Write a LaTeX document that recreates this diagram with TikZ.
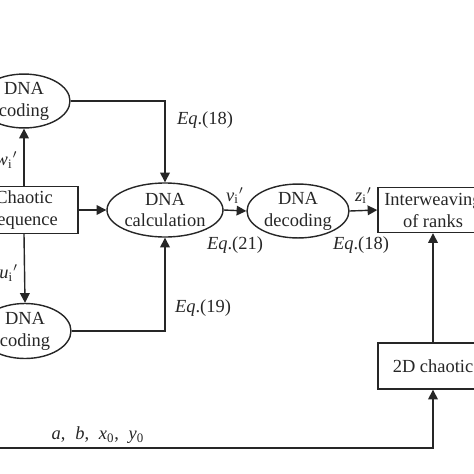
\documentclass[tikz,border=0pt]{standalone}
\usepackage{fontspec}
\setmainfont{Liberation Serif}
\usetikzlibrary{shapes.geometric}
\usetikzlibrary{arrows.meta}
\tikzstyle{oval}=[draw, ellipse, inner sep=0pt, align=center]
\tikzstyle{block}=[draw, rectangle, inner sep=0pt, align=center]
\tikzstyle{flow}=[-{Triangle[length=5.5pt,width=5.5pt]}]
\newcommand{\varlab}[2]{\textit{#1}\textsubscript{#2}$'$}

\begin{document}
\begin{tikzpicture}[x=0.02cm,y=-0.02cm,line width=0.8pt,color=black!85,font=\fontsize{10.5}{12.5}\selectfont]
\useasboundingbox (0,0) rectangle (474,474);
\clip (0,0) rectangle (474,474);
	% boxes and ovals
	\node[block, minimum width=2.16cm, minimum height=0.94cm] (chaos) at (24,210) {Chaotic\\sequence};
	\node[oval, minimum width=1.84cm, minimum height=1.06cm] (tcode) at (24,101) {DNA\\coding};
	\node[oval, minimum width=1.84cm, minimum height=1.1cm] (bcode) at (25,331) {DNA\\coding};
	\node[oval, minimum width=2.32cm, minimum height=1.08cm] (calc) at (165,210) {DNA\\calculation};
	\node[oval, minimum width=2.04cm, minimum height=1.06cm] (dec) at (298,211) {DNA\\decoding};
	\node[block, minimum width=2.2cm, minimum height=0.9cm] (weave) at (433,210) {Interweaving\\of ranks};
	\node[block, minimum width=2.2cm, minimum height=0.92cm] (map) at (433,366) {2D chaotic};
	\coordinate (key) at (-5,448);
	% connections
	\draw[flow] (chaos.north) -- (tcode.south) node[pos=0.45, anchor=east] {\varlab{w}{i}};
	\draw[flow] (chaos.south) -- (bcode.north) node[pos=0.57, anchor=east] {\varlab{u}{i}};
	\draw[flow] (chaos.east) -- (calc.west);
	\draw[flow] (tcode.east) -| (calc.north);
	\draw[flow] (bcode.east) -| (calc.south);
	\draw[flow] (calc.east) -- (dec.west) node[midway, above] {\varlab{v}{i}};
	\draw[flow] (dec.east) -- (weave.west) node[midway, above] {\varlab{z}{i}};
	\draw[flow] (map.north) -- (weave.south);
	\draw[flow] (key) -| (map.south);
	% equation labels
	\node (eqa) at (205,120) {\textit{Eq}.(18)};
	\node (eqb) at (203,308) {\textit{Eq}.(19)};
	\node (eqc) at (235,245) {\textit{Eq}.(21)};
	\node (eqd) at (361,245) {\textit{Eq}.(18)};
	\node (keys) at (98,435) {\textit{a},\; \textit{b},\; \textit{x}\textsubscript{0},\; \textit{y}\textsubscript{0}};
\end{tikzpicture}
\end{document}
